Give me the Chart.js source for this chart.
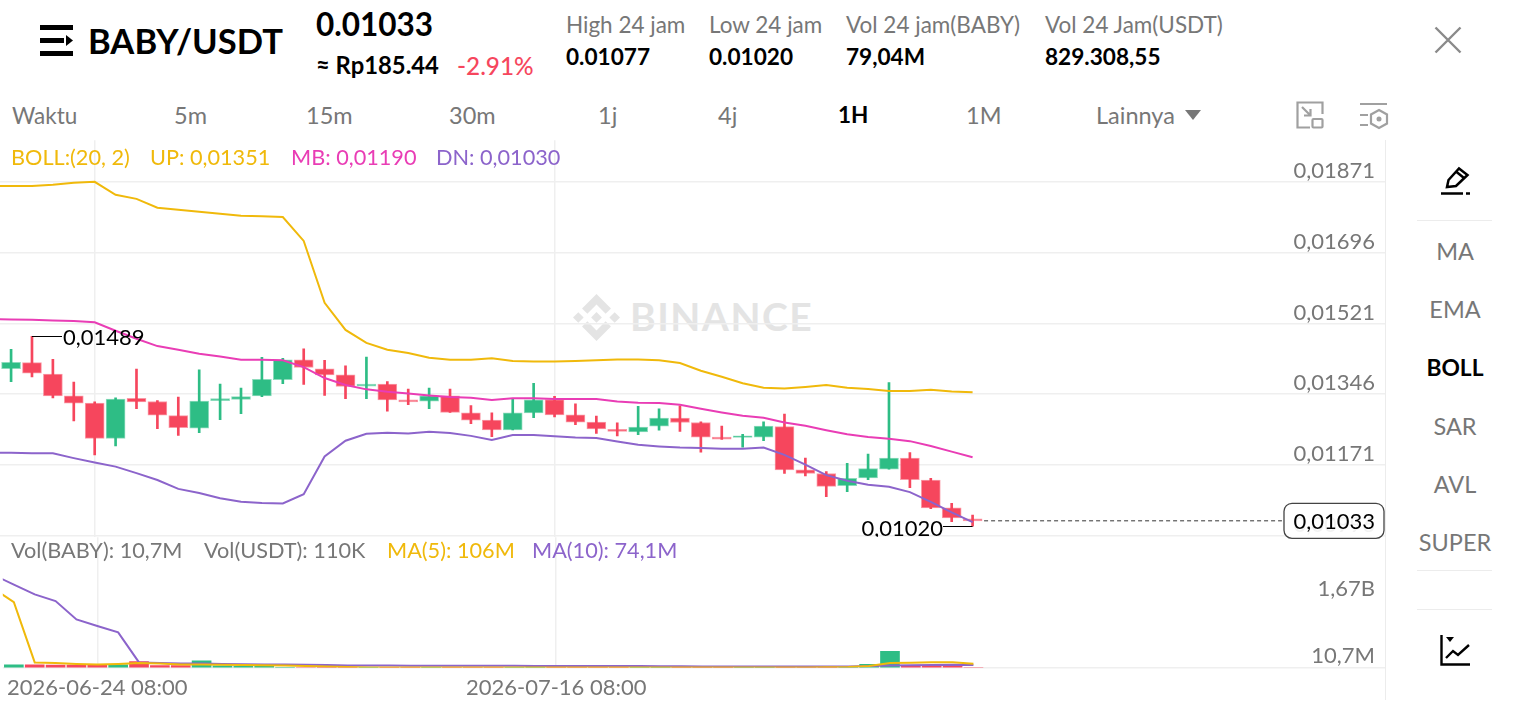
<!DOCTYPE html>
<html>
<head>
<meta charset="utf-8">
<title>BABY/USDT</title>
<script src="https://cdn.jsdelivr.net/npm/chart.js@4/dist/chart.umd.min.js"></script>
<style>
  html, body { margin: 0; padding: 0; background: #fff; }
  body { width: 1520px; height: 720px; position: relative; overflow: hidden; font-family: Lato, sans-serif; color: #000; }
  .t { position: absolute; white-space: nowrap; line-height: 1; }
  .g { color: #777; }
  .b { font-weight: 700; }
  .c { transform: translateX(-50%); }
  canvas { position: absolute; left: 0; }
  .rule { position: absolute; background: #ececec; }
  svg { position: absolute; }
</style>
</head>
<body>
<!-- watermark sits behind the canvases so the grid line crosses it -->
<svg style="left:573px;top:294px" width="47" height="47" viewBox="0 0 126.61 126.61" fill="#e4e4e4">
  <path d="M38.73 53.2l24.59-24.58 24.6 24.6 14.3-14.31L63.32 0 24.42 38.9zM0 63.31l14.3-14.31 14.31 14.31-14.31 14.3zM38.73 73.41l24.59 24.59 24.6-24.6 14.31 14.29-38.9 38.91-38.91-38.88-.02-.02zM98 63.31l14.3-14.31 14.31 14.3-14.31 14.32zM77.83 63.3L63.32 48.78 48.81 63.28l14.51 14.5z"/>
</svg>
<div class="t b" style="left:630px;top:297px;font-size:39px;color:#e4e4e4;letter-spacing:1.5px">BINANCE</div>

<canvas id="priceChart" width="1385" height="404" style="top:137px"></canvas>
<canvas id="volChart" width="1385" height="166" style="top:534px"></canvas>

<div class="rule" style="left:1385px;top:140px;width:1px;height:560px"></div>

<!-- header -->
<svg style="left:40px;top:25px" width="33" height="31" viewBox="0 0 33 31" fill="#000">
  <rect x="0" y="0" width="33" height="5"/><rect x="0" y="13" width="24" height="5"/><path d="M26 10l7 5.500-7 5.500z"/><rect x="0" y="26" width="33" height="5"/>
</svg>
<div class="t b" style="left:88px;top:23.500px;font-size:34.600px">BABY/USDT</div>
<div class="t b" style="left:316px;top:9px;font-size:31.500px">0.01033</div>
<div class="t b" style="left:316px;top:54px;font-size:23.800px">≈ Rp185.44</div>
<div class="t" style="left:457px;top:54px;font-size:24.300px;color:#F6465D;font-weight:500">-2.91%</div>

<div class="t g" style="left:566px;top:14px;font-size:22.500px">High 24 jam</div>
<div class="t b" style="left:566px;top:46px;font-size:22.600px">0.01077</div>
<div class="t g" style="left:709px;top:14px;font-size:22.500px">Low 24 jam</div>
<div class="t b" style="left:709px;top:46px;font-size:22.600px">0.01020</div>
<div class="t g" style="left:846px;top:14px;font-size:22.500px">Vol 24 jam(BABY)</div>
<div class="t b" style="left:846px;top:46px;font-size:22.600px">79,04M</div>
<div class="t g" style="left:1045px;top:14px;font-size:22.500px">Vol 24 Jam(USDT)</div>
<div class="t b" style="left:1045px;top:46px;font-size:22.600px">829.308,55</div>

<svg style="left:1434px;top:26px" width="28" height="28" viewBox="0 0 28 28" stroke="#8a8a8a" stroke-width="2.400" fill="none">
  <path d="M1.500 1.500l25 25M26.500 1.500l-25 25"/>
</svg>

<!-- interval tabs -->
<div class="t g" style="left:12px;top:104.500px;font-size:22.500px">Waktu</div>
<div class="t g" style="left:174px;top:104px;font-size:23.500px">5m</div>
<div class="t g" style="left:306px;top:104px;font-size:23.500px">15m</div>
<div class="t g" style="left:449px;top:104px;font-size:23.500px">30m</div>
<div class="t g" style="left:598px;top:104px;font-size:23.500px">1j</div>
<div class="t g" style="left:718px;top:104px;font-size:23.500px">4j</div>
<div class="t b" style="left:838px;top:104px;font-size:22.500px">1H</div>
<div class="t g" style="left:966px;top:104px;font-size:23.500px">1M</div>
<div class="t g" style="left:1096px;top:104px;font-size:23.500px">Lainnya</div>
<svg style="left:1185px;top:110px" width="16" height="10" viewBox="0 0 16 10" fill="#777"><path d="M0 0h16l-8 10z"/></svg>

<svg style="left:1296px;top:101px" width="28" height="28" viewBox="0 0 28 28" stroke="#a0a0a0" stroke-width="2.200" fill="none">
  <path d="M14 26.500H1.500V1.500H26.500V13M6 6l8 8M14.500 8v6.500H8"/><rect x="16.500" y="18" width="10" height="8.500" rx="1"/>
</svg>
<svg style="left:1359px;top:102px" width="30" height="28" viewBox="0 0 30 28" stroke="#a0a0a0" stroke-width="2.200" fill="none">
  <path d="M1 2h27M1 13h8M1 23h8M20 8l8 4.500v9l-8 4.500-8-4.500v-9z"/><circle cx="20" cy="17" r="2.500" fill="#a0a0a0" stroke="none"/>
</svg>

<!-- indicator legends -->
<div class="t" style="left:11px;top:147px;font-size:21.700px;color:#F0B90B">BOLL:(20, 2)</div>
<div class="t" style="left:150px;top:147px;font-size:21.700px;color:#F0B90B">UP: 0,01351</div>
<div class="t" style="left:291px;top:147px;font-size:21.700px;color:#E93DB5">MB: 0,01190</div>
<div class="t" style="left:436px;top:147px;font-size:21.700px;color:#8C64CB">DN: 0,01030</div>

<div class="t g" style="left:11px;top:540px;font-size:21.700px">Vol(BABY): 10,7M</div>
<div class="t g" style="left:204px;top:540px;font-size:21.700px">Vol(USDT): 110K</div>
<div class="t" style="left:387px;top:540px;font-size:21.700px;color:#F0B90B">MA(5): 106M</div>
<div class="t" style="left:532px;top:540px;font-size:21.700px;color:#8C64CB">MA(10): 74,1M</div>

<!-- side menu -->
<svg style="left:1440px;top:165px" width="31" height="30" viewBox="0 0 31 30" stroke="#000" stroke-width="2.500" fill="none">
  <path d="M7 22l1.500-7L19 3.500l8.500 6.500L16 21zM16 6.500l8 6.500"/><path d="M1 28.500h22M26 28.500h4"/>
</svg>
<div class="rule" style="left:1417px;top:220px;width:75px;height:1px"></div>
<div class="t g c" style="left:1455px;top:240px;font-size:23.500px">MA</div>
<div class="t g c" style="left:1455px;top:298px;font-size:23.500px">EMA</div>
<div class="t b c" style="left:1455px;top:356px;font-size:22.800px">BOLL</div>
<div class="t g c" style="left:1455px;top:415px;font-size:23.500px">SAR</div>
<div class="t g c" style="left:1455px;top:473px;font-size:23.500px">AVL</div>
<div class="t g c" style="left:1455px;top:531px;font-size:23.500px">SUPER</div>
<div class="rule" style="left:1417px;top:570px;width:75px;height:1px"></div>
<div class="rule" style="left:1417px;top:609px;width:75px;height:1px"></div>
<svg style="left:1440px;top:635px" width="31" height="31" viewBox="0 0 31 31" stroke="#000" stroke-width="2.400" fill="none">
  <path d="M1.500 0v29.500H30M6 23l7-7 5 4 11-10"/><path d="M6 2h8l-4 5z" fill="#000" stroke="none"/>
</svg>

<script>
// candles
const opens = [0.01409, 0.01424, 0.01396, 0.01342, 0.01324, 0.01237, 0.01336, 0.01328, 0.01293, 0.01262, 0.01330, 0.01333, 0.01342, 0.01382, 0.01431, 0.01409, 0.01394, 0.01366, 0.01371, 0.01332, 0.01329, 0.01342, 0.01300, 0.01282, 0.01258, 0.01300, 0.01333, 0.01295, 0.01277, 0.01259, 0.01253, 0.01267, 0.01287, 0.01276, 0.01240, 0.01239, 0.01240, 0.01266, 0.01159, 0.01150, 0.01120, 0.01139, 0.01161, 0.01188, 0.01134, 0.01065, 0.01038];
const highs = [0.01457, 0.01489, 0.01432, 0.01376, 0.01327, 0.01337, 0.01408, 0.01330, 0.01339, 0.01406, 0.01371, 0.01361, 0.01437, 0.01435, 0.01458, 0.01430, 0.01416, 0.01438, 0.01377, 0.01359, 0.01361, 0.01359, 0.01318, 0.01300, 0.01336, 0.01373, 0.01341, 0.01322, 0.01292, 0.01275, 0.01316, 0.01310, 0.01317, 0.01278, 0.01267, 0.01247, 0.01278, 0.01297, 0.01188, 0.01155, 0.01175, 0.01198, 0.01375, 0.01202, 0.01138, 0.01076, 0.01047];
const lows = [0.01377, 0.01389, 0.01337, 0.01280, 0.01196, 0.01218, 0.01310, 0.01261, 0.01244, 0.01251, 0.01283, 0.01298, 0.01340, 0.01372, 0.01370, 0.01343, 0.01335, 0.01335, 0.01304, 0.01320, 0.01310, 0.01301, 0.01273, 0.01241, 0.01258, 0.01288, 0.01290, 0.01271, 0.01249, 0.01243, 0.01246, 0.01257, 0.01254, 0.01203, 0.01234, 0.01215, 0.01231, 0.01150, 0.01144, 0.01093, 0.01105, 0.01135, 0.01161, 0.01115, 0.01063, 0.01031, 0.01020];
const closes = [0.01425, 0.01398, 0.01342, 0.01324, 0.01237, 0.01334, 0.01327, 0.01294, 0.01263, 0.01329, 0.01335, 0.01340, 0.01383, 0.01431, 0.01412, 0.01394, 0.01365, 0.01371, 0.01332, 0.01327, 0.01342, 0.01301, 0.01282, 0.01258, 0.01300, 0.01332, 0.01295, 0.01277, 0.01260, 0.01254, 0.01265, 0.01287, 0.01276, 0.01240, 0.01235, 0.01243, 0.01267, 0.01159, 0.01150, 0.01118, 0.01138, 0.01162, 0.01188, 0.01135, 0.01065, 0.01040, 0.01033];

// volume in millions
const volumes = [80, 80, 75, 75, 75, 80, 160, 60, 60, 180, 55, 45, 55, 15, 10, 20, 15, 15, 15, 15, 15, 15, 15, 15, 20, 50, 25, 30, 15, 15, 15, 15, 15, 15, 15, 15, 15, 25, 20, 20, 40, 90, 412, 65, 65, 65, 10.7];

// line series start one candle before the first drawn candle (clipped at the left edge)
const bollUp = [0.01861, 0.01861, 0.01861, 0.01864, 0.01869, 0.01871, 0.01839, 0.01829, 0.01807, 0.01802, 0.01797, 0.01792, 0.01787, 0.01786, 0.01784, 0.01725, 0.01572, 0.01505, 0.01473, 0.01456, 0.01448, 0.01436, 0.01431, 0.01431, 0.01435, 0.01428, 0.01427, 0.01427, 0.01428, 0.01430, 0.01432, 0.01432, 0.01430, 0.01423, 0.01404, 0.01389, 0.01373, 0.01362, 0.01360, 0.01364, 0.01369, 0.01362, 0.01359, 0.01354, 0.01354, 0.01357, 0.01353, 0.01351];
const bollMid = [0.01532, 0.01531, 0.01530, 0.01528, 0.01527, 0.01524, 0.01503, 0.01483, 0.01465, 0.01456, 0.01446, 0.01439, 0.01431, 0.01431, 0.01430, 0.01413, 0.01386, 0.01369, 0.01358, 0.01352, 0.01348, 0.01343, 0.01339, 0.01337, 0.01332, 0.01336, 0.01336, 0.01334, 0.01334, 0.01334, 0.01328, 0.01325, 0.01324, 0.01320, 0.01310, 0.01301, 0.01293, 0.01288, 0.01276, 0.01268, 0.01257, 0.01247, 0.01240, 0.01236, 0.01230, 0.01218, 0.01204, 0.01190];
const bollDn = [0.01201, 0.01201, 0.01200, 0.01200, 0.01188, 0.01177, 0.01167, 0.01151, 0.01134, 0.01112, 0.01102, 0.01089, 0.01080, 0.01077, 0.01076, 0.01099, 0.01192, 0.01231, 0.01248, 0.01251, 0.01249, 0.01253, 0.01250, 0.01243, 0.01233, 0.01245, 0.01245, 0.01242, 0.01239, 0.01238, 0.01229, 0.01221, 0.01217, 0.01214, 0.01213, 0.01211, 0.01211, 0.01214, 0.01196, 0.01172, 0.01146, 0.01132, 0.01122, 0.01117, 0.01104, 0.01080, 0.01054, 0.01030];
const volMa5 = [1974, 1634, 139, 126, 102, 89, 102, 126, 114, 89, 89, 84, 77, 69, 64, 52, 40, 27, 15, 15, 15, 15, 15, 15, 15, 15, 15, 15, 15, 15, 15, 15, 15, 15, 15, 15, 15, 15, 15, 15, 20, 27, 52, 124, 131, 144, 146, 106];
const volMa10 = [2311, 2068, 1825, 1659, 1205, 1042, 883, 139, 126, 114, 114, 102, 94, 89, 89, 82, 77, 64, 60, 60, 58, 58, 56, 56, 55, 55, 52, 52, 50, 50, 48, 48, 45, 42, 40, 40, 40, 40, 40, 40, 40, 40, 52, 64, 69, 77, 82, 74.1];

const priceTicks = [0.01871, 0.01696, 0.01521, 0.01346, 0.01171, 0.00996];
const priceTickLabels = ["0,01871", "0,01696", "0,01521", "0,01346", "0,01171", "0,00996"];
const volTicks = [1670, 10.7];
const volTickLabels = ["1,67B", "10,7M"];
const dateTicks = [4, 26];
const dateTickLabels = ["2026-06-24 08:00", "2026-07-16 08:00"];

const lastPrice = 0.01033;
const highLabel = "0,01489";
const lowLabel = "0,01020";
const lastLabel = "0,01033";

const GREEN = "#2EBD85";
const RED = "#F6465D";
const YELLOW = "#F0B90B";
const PINK = "#E93DB5";
const PURPLE = "#8C64CB";
const GRID = "#efefef";
const LABEL = "#777";
const FONT = "Lato, sans-serif";

const candleColors = closes.map((c, i) => (c >= opens[i] ? GREEN : RED));
const candleEdges = closes.map((c, i) => (c >= opens[i] ? "rgba(46,189,133,0.55)" : "rgba(246,70,93,0.55)"));

// x runs in candle numbers so both panels line up at 20.9px per candle
const xMin = -0.53;
const xMax = 65.73;

function lineSet(values, color, yAxisID) {
    return {
        type: "line",
        data: values.map((v, i) => ({ x: i - 1, y: v })),
        borderColor: color,
        borderWidth: 2,
        pointRadius: 0,
        tension: 0,
        order: 0,
        yAxisID
    };
}

function xScale(showLabels) {
    return {
        type: "linear",
        min: xMin,
        max: xMax,
        offset: false,
        border: { display: false },
        grid: { color: GRID, lineWidth: 1.5, drawTicks: false, offset: false },
        afterBuildTicks: scale => { scale.ticks = dateTicks.map(v => ({ value: v })); },
        afterFit: scale => { scale.height = showLabels ? 32.4 : 0; },
        ticks: {
            display: showLabels,
            autoSkip: false,
            maxRotation: 0,
            padding: 7,
            color: LABEL,
            font: { family: FONT, size: 22 },
            callback: (v, i) => dateTickLabels[i]
        }
    };
}

function yTicks(labels, labelOffset) {
    return {
        mirror: true,
        padding: -10,
        labelOffset,
        color: LABEL,
        font: { family: FONT, size: 22 },
        autoSkip: false,
        callback: (v, i) => labels[i]
    };
}

// high / low notes and the last price tag, placed through the scales
const priceNotes = {
    id: "priceNotes",
    afterDatasetsDraw(chart) {
        const { ctx, chartArea, scales: { x, y } } = chart;
        ctx.save();
        ctx.beginPath();
        ctx.rect(chartArea.left, chartArea.top, chartArea.width, chartArea.height);
        ctx.clip();
        ctx.font = "22px " + FONT;
        ctx.fillStyle = "#000";
        ctx.strokeStyle = "#000";
        ctx.lineWidth = 1;
        ctx.textBaseline = "middle";

        const hi = y.getPixelForValue(Math.max(...highs));
        ctx.beginPath();
        ctx.moveTo(x.getPixelForValue(highs.indexOf(Math.max(...highs))), Math.round(hi) + 0.5);
        ctx.lineTo(62, Math.round(hi) + 0.5);
        ctx.stroke();
        ctx.fillText(highLabel, 63, hi + 2);

        const lo = y.getPixelForValue(Math.min(...lows));
        ctx.beginPath();
        ctx.moveTo(x.getPixelForValue(lows.indexOf(Math.min(...lows))), Math.round(lo) + 0.5);
        ctx.lineTo(943, Math.round(lo) + 0.5);
        ctx.stroke();
        ctx.textAlign = "right";
        ctx.fillText(lowLabel, 943, lo + 3);
        ctx.restore();

        const py = y.getPixelForValue(lastPrice);
        ctx.save();
        ctx.beginPath();
        ctx.roundRect(1284, py - 17.5, 100, 35, 8);
        ctx.fillStyle = "rgba(255,255,255,0.9)";
        ctx.fill();
        ctx.strokeStyle = "#444";
        ctx.lineWidth = 1.3;
        ctx.stroke();
        ctx.fillStyle = "#000";
        ctx.font = "22px " + FONT;
        ctx.textAlign = "right";
        ctx.textBaseline = "middle";
        ctx.fillText(lastLabel, 1375, py + 1);
        ctx.restore();
    }
};

new Chart(document.getElementById("priceChart"), {
    type: "bar",
    plugins: [priceNotes],
    data: {
        datasets: [
            lineSet(bollUp, YELLOW, "y"),
            lineSet(bollMid, PINK, "y"),
            lineSet(bollDn, PURPLE, "y"),
            {
                type: "line",
                data: [{ x: 46.55, y: lastPrice }, { x: 60.8, y: lastPrice }],
                borderColor: "#333",
                borderWidth: 1,
                borderDash: [4, 3],
                pointRadius: 0,
                order: 0
            },
            {
                data: lows.map((l, i) => ({ x: i, y: [l, highs[i]] })),
                backgroundColor: candleColors,
                barThickness: 2,
                grouped: false,
                order: 2
            },
            {
                data: opens.map((o, i) => ({ x: i, y: [o, closes[i]] })),
                backgroundColor: candleColors,
                borderColor: candleEdges,
                borderWidth: 1,
                borderSkipped: false,
                barThickness: 19,
                grouped: false,
                order: 1
            }
        ]
    },
    options: {
        responsive: false,
        animation: false,
        layout: { padding: { bottom: 4 } },
        plugins: { legend: { display: false }, tooltip: { enabled: false } },
        scales: {
            x: xScale(false),
            y: {
                position: "right",
                min: 0.00993,
                max: 0.01974,
                border: { display: false },
                grid: { color: GRID, lineWidth: 1.5, drawTicks: false },
                afterBuildTicks: scale => { scale.ticks = priceTicks.map(v => ({ value: v })); },
                ticks: yTicks(priceTickLabels, -11)
            }
        }
    }
});

new Chart(document.getElementById("volChart"), {
    type: "bar",
    data: {
        datasets: [
            lineSet(volMa5, YELLOW, "y"),
            lineSet(volMa10, PURPLE, "y"),
            {
                data: volumes.map((v, i) => ({ x: i, y: v })),
                backgroundColor: candleColors,
                barThickness: 19,
                order: 1
            }
        ]
    },
    options: {
        responsive: false,
        animation: false,
        plugins: { legend: { display: false }, tooltip: { enabled: false } },
        scales: {
            x: xScale(true),
            y: {
                position: "right",
                min: 10.7,
                max: 3242,
                border: { display: false },
                grid: {
                    color: ctx => (ctx.tick && ctx.tick.value === 1670 ? "transparent" : GRID),
                    lineWidth: 1.5,
                    drawTicks: false
                },
                afterBuildTicks: scale => { scale.ticks = volTicks.map(v => ({ value: v })); },
                ticks: yTicks(volTickLabels, -12)
            }
        }
    }
});
</script>
</body>
</html>
